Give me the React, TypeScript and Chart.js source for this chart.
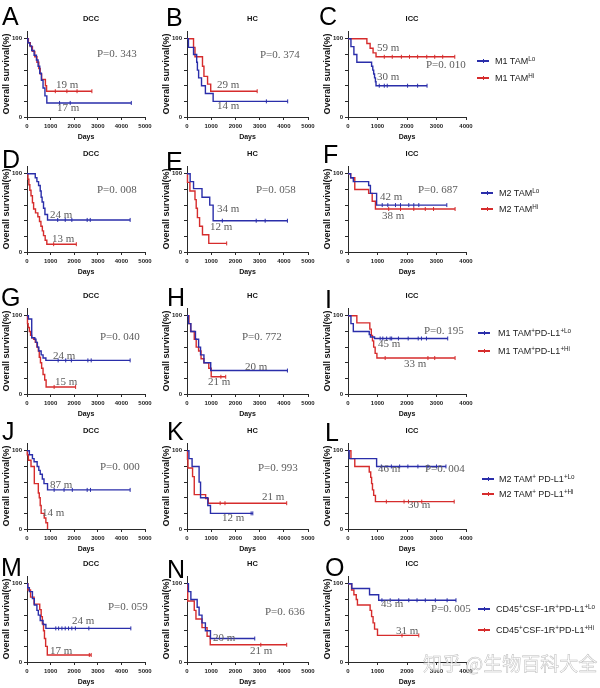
import React, { useEffect, useRef } from 'react';
import { Chart, registerables } from 'chart.js';

Chart.register(...registerables);

type Step = [number, number];

// ---------- Kaplan–Meier curves: [day, survival %] at each event, plus censored days ----------
const A_LO_STEPS: Step[] = [[0,100],[40,95],[120,91],[200,85],[300,79],[400,73],[470,65],[540,56],[610,47],[680,37],[760,27],[840,18]];
const A_LO_CENSORED = [1380, 1830, 4420];
const A_HI_STEPS: Step[] = [[0,100],[60,95],[140,90],[230,84],[330,77],[420,70],[500,62],[560,55],[620,48],[780,40],[830,33]];
const A_HI_CENSORED = [1200, 1690, 2120, 2750];

const B_LO_STEPS: Step[] = [[0,100],[60,89],[270,80],[400,70],[430,60],[480,50],[600,40],[760,30],[1080,20]];
const B_LO_CENSORED = [3280, 4160];
const B_HI_STEPS: Step[] = [[0,100],[270,89],[330,77],[640,65],[700,52],[850,42],[980,33]];
const B_HI_CENSORED = [2900];

const C_LO_STEPS: Step[] = [[0,100],[100,90],[200,80],[300,70],[800,65],[840,60],[870,55],[900,50],[930,45],[950,40]];
const C_LO_CENSORED = [1060, 1230, 1330, 2020, 2360, 2680];
const C_HI_STEPS: Step[] = [[0,100],[640,94],[750,88],[850,82],[950,77]];
const C_HI_CENSORED = [1230, 1500, 1810, 2085, 2360, 2670, 2940, 3210, 3620];

const D_LO_STEPS: Step[] = [[0,100],[350,95],[420,90],[490,85],[560,78],[600,70],[640,64],[700,56],[760,48],[870,41]];
const D_LO_CENSORED = [1300, 1620, 1900, 2550, 2680, 4370];
const D_HI_STEPS: Step[] = [[0,100],[40,93],[80,86],[120,79],[170,72],[230,63],[280,55],[360,50],[460,45],[530,39],[590,33],[650,27],[700,21],[770,15],[840,10]];
const D_HI_CENSORED = [1130, 2090];

const E_LO_STEPS: Step[] = [[0,100],[130,90],[270,81],[620,70],[940,60],[1080,40]];
const E_LO_CENSORED = [1460, 2860, 3230, 4150];
const E_HI_STEPS: Step[] = [[0,100],[20,89],[120,78],[330,67],[380,56],[430,44],[520,33],[640,22],[900,11]];
const E_HI_CENSORED = [1640];

const F_LO_STEPS: Step[] = [[0,100],[90,95],[180,90],[700,85],[760,75],[970,60]];
const F_LO_CENSORED = [1160, 1350, 1610, 1780, 2060, 2230, 2400, 3350];
const F_HI_STEPS: Step[] = [[0,100],[90,95],[230,80],[700,75],[820,65],[930,55]];
const F_HI_CENSORED = [1380, 1780, 2230, 2620, 2900, 3630];

const G_LO_STEPS: Step[] = [[0,100],[60,96],[200,72],[330,70],[380,66],[440,60],[500,55],[600,50],[680,46],[800,43]];
const G_LO_CENSORED = [1320, 1640, 1880, 2580, 2720, 4370];
const G_HI_STEPS: Step[] = [[0,100],[20,90],[50,85],[100,80],[150,75],[200,72],[280,70],[350,66],[420,60],[480,55],[520,47],[570,40],[620,33],[680,25],[750,18],[810,9]];
const G_HI_CENSORED = [1150, 2060];

const H_LO_STEPS: Step[] = [[0,100],[60,90],[160,80],[350,70],[480,60],[560,50],[700,40],[980,30]];
const H_LO_CENSORED = [4150];
const H_HI_STEPS: Step[] = [[0,100],[80,90],[150,80],[300,70],[380,60],[480,55],[580,45],[700,40],[900,33],[1000,22]];
const H_HI_CENSORED = [1400, 1600];

const I_LO_STEPS: Step[] = [[0,100],[100,90],[180,80],[720,76],[760,73],[900,71]];
const I_LO_CENSORED = [1090, 1180, 1310, 1430, 1480, 1710, 2040, 2380, 2490, 2660, 3380];
const I_HI_STEPS: Step[] = [[0,100],[300,91],[740,83],[790,75],[830,68],[870,60],[920,52],[980,46]];
const I_HI_CENSORED = [1260, 2710, 2940, 3630];

const J_LO_STEPS: Step[] = [[0,100],[100,95],[230,90],[300,86],[430,80],[500,75],[560,70],[650,64],[720,58],[870,50]];
const J_LO_CENSORED = [1150, 1570, 1920, 2550, 2690, 4370];
const J_HI_STEPS: Step[] = [[0,100],[10,95],[60,88],[170,80],[310,58],[480,46],[520,40],[560,30],[600,20],[730,14],[800,8],[870,0]];
const J_HI_CENSORED: number[] = [];

const K_LO_STEPS: Step[] = [[0,100],[80,90],[210,80],[500,60],[560,40],[860,30],[970,20]];
const K_LO_CENSORED = [2650, 2720];
const K_HI_STEPS: Step[] = [[0,100],[20,89],[40,78],[230,67],[300,44],[770,39],[880,33]];
const K_HI_CENSORED = [1370, 1570, 4120];

const L_LO_STEPS: Step[] = [[0,100],[40,90],[970,80]];
const L_LO_CENSORED = [1130, 1470, 1750, 2030, 2370, 2710, 3000, 3320];
const L_HI_STEPS: Step[] = [[0,100],[100,90],[230,80],[720,73],[770,66],[800,58],[830,50],[870,43],[930,35]];
const L_HI_CENSORED = [1300, 1900, 2050, 2500, 3600];

const M_LO_STEPS: Step[] = [[0,100],[30,95],[100,90],[230,81],[310,73],[420,66],[480,60],[560,53],[680,48],[800,43]];
const M_LO_CENSORED = [1220, 1340, 1480, 1620, 1760, 1900, 2050, 2620, 4400];
const M_HI_STEPS: Step[] = [[0,100],[40,92],[150,83],[300,74],[540,67],[600,58],[650,49],[700,40],[740,30],[790,20],[860,9]];
const M_HI_CENSORED = [2640, 2720];

const N_LO_STEPS: Step[] = [[0,100],[60,90],[160,80],[420,70],[500,60],[620,50],[760,40],[970,30]];
const N_LO_CENSORED = [2800];
const N_HI_STEPS: Step[] = [[0,100],[30,78],[300,66],[370,55],[620,44],[830,33],[960,22]];
const N_HI_CENSORED = [3050, 4120];

const O_LO_STEPS: Step[] = [[0,100],[130,94],[730,86],[1040,79]];
const O_LO_CENSORED = [1150, 1430, 1720, 2060, 2340, 2620, 2960, 3360, 3660];
const O_HI_STEPS: Step[] = [[0,100],[120,92],[200,86],[280,80],[320,73],[750,66],[800,58],[850,50],[900,42],[1000,34]];
const O_HI_CENSORED = [1830, 2400];

// ---------- panel labels ----------
const PANEL_LETTERS = ['A','B','C','D','E','F','G','H','I','J','K','L','M','N','O'];
const COHORTS = ['DCC', 'HC', 'ICC'];
const P_VALUES = ['P=0. 343','P=0. 374','P=0. 010','P=0. 008','P=0. 058','P=0. 687','P=0. 040','P=0. 772','P=0. 195','P=0. 000','P=0. 993','P=0. 004','P=0. 059','P=0. 636','P=0. 005'];
const MEDIAN_LO = ['17 m','14 m','30 m','24 m','34 m','42 m','24 m','20 m','45 m','87 m','12 m','46 m','24 m','20 m','45 m'];
const MEDIAN_HI = ['19 m','29 m','59 m','13 m','12 m','38 m','15 m','21 m','33 m','14 m','21 m','30 m','17 m','21 m','31 m'];
const X_MAX = [5000, 5000, 4000];
const Y_TICK_LABELS = [0, 50, 100];

// anchor of each text in data units [day, %]: P value, Lo median, Hi median
const NOTE_AT: [Step, Step, Step][] = [
  [[2966,80.6],[1271,11.5],[1229,41]],
  [[3016,79.3],[1240,14],[1240,41]],
  [[2644,66.5],[983,51],[983,88]],
  [[2966,79.3],[975,47.3],[1059,16.6]],
  [[2851,79.3],[1240,55],[950,32]],
  [[2373,79.3],[1085,70.3],[1153,46]],
  [[3093,72.9],[1102,48.6],[1186,15.3]],
  [[2273,72.9],[2397,34.5],[868,15.3]],
  [[2576,80.6],[1017,64],[1898,38.4]],
  [[3093,79.3],[975,56.3],[636,20.5]],
  [[2934,78],[1446,14],[3099,41]],
  [[2610,76.7],[1017,76.7],[2034,30.7]],
  [[3432,70.3],[1907,52.4],[975,14]],
  [[3223,64],[1074,30.7],[2603,14]],
  [[2814,68.2],[1119,74.2],[1627,39.6]],
];

const CURVES: [Step[], number[], Step[], number[]][] = [
  [A_LO_STEPS, A_LO_CENSORED, A_HI_STEPS, A_HI_CENSORED],
  [B_LO_STEPS, B_LO_CENSORED, B_HI_STEPS, B_HI_CENSORED],
  [C_LO_STEPS, C_LO_CENSORED, C_HI_STEPS, C_HI_CENSORED],
  [D_LO_STEPS, D_LO_CENSORED, D_HI_STEPS, D_HI_CENSORED],
  [E_LO_STEPS, E_LO_CENSORED, E_HI_STEPS, E_HI_CENSORED],
  [F_LO_STEPS, F_LO_CENSORED, F_HI_STEPS, F_HI_CENSORED],
  [G_LO_STEPS, G_LO_CENSORED, G_HI_STEPS, G_HI_CENSORED],
  [H_LO_STEPS, H_LO_CENSORED, H_HI_STEPS, H_HI_CENSORED],
  [I_LO_STEPS, I_LO_CENSORED, I_HI_STEPS, I_HI_CENSORED],
  [J_LO_STEPS, J_LO_CENSORED, J_HI_STEPS, J_HI_CENSORED],
  [K_LO_STEPS, K_LO_CENSORED, K_HI_STEPS, K_HI_CENSORED],
  [L_LO_STEPS, L_LO_CENSORED, L_HI_STEPS, L_HI_CENSORED],
  [M_LO_STEPS, M_LO_CENSORED, M_HI_STEPS, M_HI_CENSORED],
  [N_LO_STEPS, N_LO_CENSORED, N_HI_STEPS, N_HI_CENSORED],
  [O_LO_STEPS, O_LO_CENSORED, O_HI_STEPS, O_HI_CENSORED],
];

// legend text per row: [text, superscript?]
type Seg = [string, boolean];
const LEGEND_LABELS: [Seg[], Seg[]][] = [
  [[['M1 TAM', false], ['Lo', true]], [['M1 TAM', false], ['Hi', true]]],
  [[['M2 TAM', false], ['Lo', true]], [['M2 TAM', false], ['Hi', true]]],
  [[['M1 TAM', false], ['+', true], ['PD-L1', false], ['+Lo', true]], [['M1 TAM', false], ['+', true], ['PD-L1', false], ['+Hi', true]]],
  [[['M2 TAM', false], ['+', true], [' PD-L1', false], ['+Lo', true]], [['M2 TAM', false], ['+', true], [' PD-L1', false], ['+Hi', true]]],
  [[['CD45', false], ['+', true], ['CSF-1R', false], ['+', true], ['PD-L1', false], ['+Lo', true]], [['CD45', false], ['+', true], ['CSF-1R', false], ['+', true], ['PD-L1', false], ['+Hi', true]]],
];

// ---------- layout ----------
const BLUE = '#2a2eaa';
const RED = '#d62c2c';
const AXIS = '#2a2a2a';
const COL_LEFT = [27, 187, 348];
const COL_WIDTH = [118, 121, 118];
const ROW_BOTTOM = [117, 252, 394, 529, 662];
const PLOT_H = 86;
const Y_AXIS_W = 27;
const X_AXIS_H = 24;
const PAD_TOP = 20;
const PAD_RIGHT = 14;
const LETTER_AT: [number, number][] = [
  [2,7],[166,8],[319,7],
  [2,150],[166,152],[323,145],
  [1,288],[167,288],[325,290],
  [2,422],[167,422],[325,423],
  [1,558],[167,560],[325,558],
];
const LEGEND_AT = [
  { lineX: 477, textX: 495, y: [61, 78] },
  { lineX: 481, textX: 499, y: [193, 209] },
  { lineX: 478, textX: 498, y: [333, 351] },
  { lineX: 482, textX: 499, y: [479, 494] },
  { lineX: 478, textX: 496, y: [609, 630] },
];

function buildSeries(steps: Step[], censored: number[]) {
  const pts = steps.map(([x, y]) => ({ x, y, c: false }));
  for (const t of censored) {
    let s = steps[0][1];
    for (const [x, y] of steps) if (x <= t) s = y;
    pts.push({ x: t, y: s, c: true });
  }
  pts.sort((a, b) => a.x - b.x || (a.c ? 1 : 0) - (b.c ? 1 : 0));
  return pts;
}

const panelText = {
  id: 'panelText',
  afterDraw(chart: any, _args: any, opts: any) {
    const { ctx, chartArea, scales } = chart;
    ctx.save();
    ctx.fillStyle = '#111';
    ctx.font = 'bold 7.5px "Liberation Sans", Arial, sans-serif';
    ctx.textAlign = 'center';
    ctx.textBaseline = 'middle';
    ctx.fillText(opts.title, (chartArea.left + chartArea.right) / 2 + 5, chartArea.top - 12);
    ctx.fillStyle = '#5c5c5c';
    ctx.font = '11px "Liberation Serif", "Times New Roman", serif';
    ctx.textAlign = 'left';
    for (const n of opts.notes) {
      ctx.fillText(n.text, scales.x.getPixelForValue(n.x), scales.y.getPixelForValue(n.y));
    }
    ctx.restore();
  },
};

function dataset(steps: Step[], censored: number[], color: string) {
  const pts = buildSeries(steps, censored);
  return {
    data: pts.map((p) => ({ x: p.x, y: p.y })),
    borderColor: color,
    backgroundColor: color,
    borderWidth: 1.4,
    stepped: 'before' as const,
    pointStyle: 'line' as const,
    pointRotation: 90,
    pointRadius: pts.map((p) => (p.c ? 2 : 0)),
    pointHoverRadius: 0,
    pointBorderColor: color,
    pointBorderWidth: 1,
    fill: false,
    clip: false as const,
  };
}

function Panel({ index }: { index: number }) {
  const ref = useRef<HTMLCanvasElement>(null);
  const col = index % 3;
  const row = Math.floor(index / 3);
  const left = COL_LEFT[col] - Y_AXIS_W;
  const top = ROW_BOTTOM[row] - PLOT_H - PAD_TOP;
  const width = Y_AXIS_W + COL_WIDTH[col] + PAD_RIGHT;
  const height = PAD_TOP + PLOT_H + X_AXIS_H;

  useEffect(() => {
    const [loSteps, loCens, hiSteps, hiCens] = CURVES[index];
    const [pAt, loAt, hiAt] = NOTE_AT[index];
    const tickFont = { family: '"Liberation Sans", Arial, sans-serif', size: 6, weight: 'bold' as const };
    const chart = new Chart(ref.current as HTMLCanvasElement, {
      type: 'line',
      data: {
        datasets: [dataset(loSteps, loCens, BLUE), dataset(hiSteps, hiCens, RED)] as any,
      },
      options: {
        responsive: false,
        animation: false,
        events: [],
        layout: { padding: { top: PAD_TOP, right: PAD_RIGHT, left: 0, bottom: 0 } },
        scales: {
          x: {
            type: 'linear',
            min: 0,
            max: X_MAX[col],
            afterFit: (s: any) => { s.height = X_AXIS_H; },
            ticks: { stepSize: 1000, padding: 3, color: '#222', font: tickFont, maxRotation: 0, callback: (v: any) => String(v) },
            grid: { drawOnChartArea: false, drawTicks: true, tickLength: 3, color: AXIS },
            border: { display: true, color: AXIS, width: 1 },
            title: { display: true, text: 'Days', color: '#111', font: { family: '"Liberation Sans", Arial, sans-serif', size: 7, weight: 'bold' }, padding: { top: 0, bottom: 0 } },
          },
          y: {
            type: 'linear',
            min: 0,
            max: 110,
            afterFit: (s: any) => { s.width = Y_AXIS_W; },
            afterBuildTicks: (s: any) => { s.ticks = s.ticks.filter((t: any) => t.value <= 100); },
            ticks: {
              stepSize: 10,
              padding: 2,
              color: '#222',
              font: tickFont,
              callback: (v: any) => (Y_TICK_LABELS.includes(Number(v)) ? String(v) : ''),
            },
            grid: { drawOnChartArea: false, drawTicks: true, tickLength: 3, color: AXIS },
            border: { display: true, color: AXIS, width: 1 },
            title: { display: true, text: 'Overall survival(%)', color: '#111', font: { family: '"Liberation Sans", Arial, sans-serif', size: 9, weight: 'bold' }, padding: { top: 1, bottom: 0 } },
          },
        },
        plugins: {
          legend: { display: false },
          tooltip: { enabled: false },
          panelText: {
            title: COHORTS[col],
            notes: [
              { text: P_VALUES[index], x: pAt[0], y: pAt[1] },
              { text: MEDIAN_LO[index], x: loAt[0], y: loAt[1] },
              { text: MEDIAN_HI[index], x: hiAt[0], y: hiAt[1] },
            ],
          },
        } as any,
      },
      plugins: [panelText],
    });
    return () => chart.destroy();
  }, [index]);

  return (
    <canvas
      ref={ref}
      width={width}
      height={height}
      style={{ position: 'absolute', left, top, width, height }}
    />
  );
}

function LegendEntry({ lineX, textX, y, color, segs }: { lineX: number; textX: number; y: number; color: string; segs: Seg[] }) {
  return (
    <>
      <div style={{ position: 'absolute', left: lineX, top: y - 0.75, width: 12, height: 1.5, background: color }} />
      <div style={{ position: 'absolute', left: lineX + 5.5, top: y - 2, width: 1, height: 4, background: color }} />
      <div
        style={{
          position: 'absolute', left: textX, top: y - 6, height: 12, lineHeight: '12px',
          fontFamily: '"Liberation Sans", Arial, sans-serif', fontSize: 9, color: '#222', whiteSpace: 'nowrap',
        }}
      >
        {segs.map(([t, sup], i) =>
          sup ? (
            <span key={i} style={{ fontSize: 6.3, position: 'relative', top: -3.5 }}>{t}</span>
          ) : (
            <span key={i}>{t}</span>
          ),
        )}
      </div>
    </>
  );
}

export default function App() {
  return (
    <div style={{ position: 'absolute', left: 0, top: 0, width: 600, height: 688, background: '#fff', overflow: 'hidden' }}>
      {PANEL_LETTERS.map((_, i) => <Panel key={i} index={i} />)}
      {PANEL_LETTERS.map((l, i) => (
        <div
          key={l}
          style={{
            position: 'absolute', left: LETTER_AT[i][0], top: LETTER_AT[i][1] - 3.3,
            fontFamily: '"Liberation Sans", Arial, sans-serif', fontSize: 25, lineHeight: '25px', color: '#000',
          }}
        >
          {l}
        </div>
      ))}
      {LEGEND_LABELS.map(([lo, hi], r) => (
        <React.Fragment key={r}>
          <LegendEntry lineX={LEGEND_AT[r].lineX} textX={LEGEND_AT[r].textX} y={LEGEND_AT[r].y[0]} color={BLUE} segs={lo} />
          <LegendEntry lineX={LEGEND_AT[r].lineX} textX={LEGEND_AT[r].textX} y={LEGEND_AT[r].y[1]} color={RED} segs={hi} />
        </React.Fragment>
      ))}
      <div
        style={{
          position: 'absolute', left: 423, top: 650, fontFamily: '"Noto Sans CJK SC", sans-serif', fontSize: 19,
          lineHeight: '26px', color: 'rgba(255,255,255,0.8)', WebkitTextStroke: '0.5px rgba(160,160,160,0.7)', whiteSpace: 'nowrap',
        }}
      >
        知乎 @生物百科大全
      </div>
    </div>
  );
}
